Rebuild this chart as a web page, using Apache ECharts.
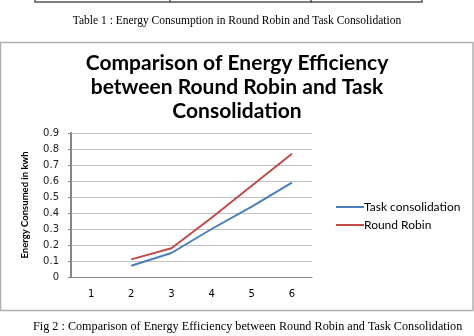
<!DOCTYPE html>
<html>
<head>
<meta charset="utf-8">
<script src="https://cdn.jsdelivr.net/npm/echarts@6/dist/echarts.min.js"></script>
<style>
  html, body { margin: 0; padding: 0; background: #ffffff; }
  #chart { width: 474px; height: 336px; }
</style>
</head>
<body>
<div id="chart"></div>
<script>
// Number of tasks on the x axis
const taskCounts = ['1', '2', '3', '4', '5', '6'];
// Energy consumed (kWh) per scheduling approach
const taskConsolidation = [null, 0.07, 0.15, 0.30, 0.44, 0.59];
const roundRobin = [null, 0.11, 0.18, 0.37, 0.57, 0.77];
// Y axis range and step
const yMin = 0, yMax = 0.9, yStep = 0.1;

const chart = echarts.init(document.getElementById('chart'), null, { renderer: 'canvas' });

const serif = '"Liberation Serif", "DejaVu Serif", serif';
const sans = 'Lato, "Open Sans", sans-serif';

chart.setOption({
  backgroundColor: '#ffffff',
  animation: false,
  title: {
    text: 'Comparison of Energy Efficiency\nbetween Round Robin and Task\nConsolidation',
    left: 'center',
    top: 46,
    textStyle: {
      fontFamily: sans,
      fontWeight: 'bold',
      fontSize: 21,
      lineHeight: 24,
      color: '#000000'
    }
  },
  grid: { left: 71, top: 133, width: 241, height: 144 },
  legend: {
    orient: 'vertical',
    left: 331,
    top: 196,
    itemWidth: 28,
    itemHeight: 2,
    itemGap: 6,
    icon: 'rect',
    textStyle: { fontFamily: sans, fontSize: 12, color: '#000000', padding: [0, 0, 0, -5] },
    data: ['Task consolidation', 'Round Robin']
  },
  xAxis: {
    type: 'category',
    data: taskCounts,
    boundaryGap: true,
    axisLine: { lineStyle: { color: '#868686', width: 1 } },
    axisTick: { show: false },
    axisLabel: { fontFamily: '"DejaVu Sans", sans-serif', fontSize: 10, color: '#000000', margin: 12 }
  },
  yAxis: {
    type: 'value',
    min: yMin,
    max: yMax,
    interval: yStep,
    name: 'Energy Consumed in kwh',
    nameLocation: 'middle',
    nameRotate: 90,
    nameGap: 41,
    nameTextStyle: { fontFamily: sans, fontWeight: 'bold', fontSize: 9.5, color: '#000000' },
    axisLine: { show: true, lineStyle: { color: '#868686', width: 2 } },
    axisTick: { show: true, length: 3, lineStyle: { color: '#868686' } },
    axisLabel: {
      fontFamily: '"DejaVu Sans", sans-serif',
      fontSize: 10,
      color: '#222222',
      margin: 12,
      formatter: v => (v === 0 ? '0' : v.toFixed(1))
    },
    splitLine: { lineStyle: { color: '#c0c0c0', width: 1 } }
  },
  series: [
    {
      name: 'Task consolidation',
      type: 'line',
      data: taskConsolidation,
      symbol: 'none',
      lineStyle: { color: '#4a7ebb', width: 2 },
      itemStyle: { color: '#4a7ebb' }
    },
    {
      name: 'Round Robin',
      type: 'line',
      data: roundRobin,
      symbol: 'none',
      lineStyle: { color: '#be4b48', width: 2 },
      itemStyle: { color: '#be4b48' }
    }
  ],
  graphic: [
    // bottom edge of the table above the figure
    { type: 'rect', shape: { x: 35, y: -2, width: 387, height: 4 }, style: { fill: 'none', stroke: '#555555', lineWidth: 1.5 } },
    { type: 'line', shape: { x1: 170, y1: 0, x2: 170, y2: 3 }, style: { stroke: '#555555', lineWidth: 1.5 } },
    { type: 'line', shape: { x1: 311, y1: 0, x2: 311, y2: 3 }, style: { stroke: '#555555', lineWidth: 1.5 } },
    {
      type: 'text', left: 'center', top: 15,
      style: { text: 'Table 1 : Energy Consumption in Round Robin and Task Consolidation', font: '11.5px ' + serif, fill: '#000000' }
    },
    // frame around the chart
    { type: 'rect', z: -1, shape: { x: 0.5, y: 42.5, width: 472.5, height: 268 }, style: { fill: 'none', stroke: '#b0b0b0', lineWidth: 1.5 } },
    {
      type: 'text', left: 33, top: 321,
      style: { text: 'Fig 2 : Comparison of Energy Efficiency between Round Robin and Task Consolidation', font: '12.2px ' + serif, fill: '#000000' }
    }
  ]
});
</script>
</body>
</html>
